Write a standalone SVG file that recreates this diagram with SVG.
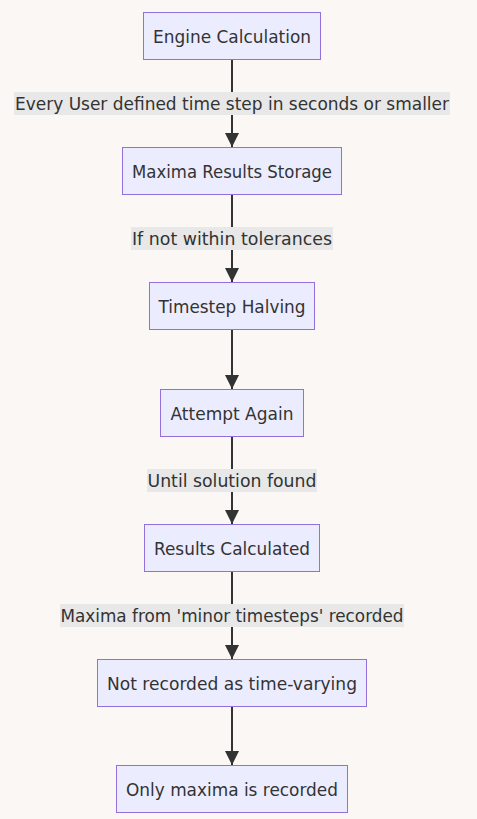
<svg xmlns="http://www.w3.org/2000/svg" width="477" height="819" viewBox="0 0 477 819">
<style>
.bg{fill:#faf7f4}
.node rect{fill:#ECECFF;stroke:#9370DB;stroke-width:1px}
text{font-family:"DejaVu Sans","Trebuchet MS",Verdana,sans-serif;font-size:17px;fill:#333;text-anchor:middle;dominant-baseline:central}
.edge{stroke:#333;stroke-width:2px;fill:none}
.lbl rect{fill:#e8e8e8}
</style>
<defs>
<marker id="arrow" markerUnits="userSpaceOnUse" markerWidth="14" markerHeight="14" refX="14" refY="7" orient="auto" viewBox="0 0 14 14">
<path d="M0,0 L14,7 L0,14 z" fill="#333"/>
</marker>
</defs>
<rect class="bg" x="0" y="0" width="477" height="819"/>
<g id="connectors">
<path class="edge" d="M232,60 L232,147" marker-end="url(#arrow)"/>
<path class="edge" d="M232,195 L232,282" marker-end="url(#arrow)"/>
<path class="edge" d="M232,330 L232,389" marker-end="url(#arrow)"/>
<path class="edge" d="M232,437 L232,524" marker-end="url(#arrow)"/>
<path class="edge" d="M232,572 L232,659" marker-end="url(#arrow)"/>
<path class="edge" d="M232,707 L232,765" marker-end="url(#arrow)"/>
<g class="lbl" id="label1"><rect x="14" y="92" width="436" height="23"/><text x="232" y="104" textLength="434" lengthAdjust="spacingAndGlyphs">Every User defined time step in seconds or smaller</text></g>
<g class="lbl" id="label2"><rect x="131" y="227" width="202" height="23"/><text x="232" y="239" textLength="200" lengthAdjust="spacingAndGlyphs">If not within tolerances</text></g>
<g class="lbl" id="label3"><rect x="147" y="469" width="170" height="23"/><text x="232" y="481" textLength="169" lengthAdjust="spacingAndGlyphs">Until solution found</text></g>
<g class="lbl" id="label4"><rect x="60" y="604" width="344" height="23"/><text x="232" y="616" textLength="343" lengthAdjust="spacingAndGlyphs">Maxima from 'minor timesteps' recorded</text></g>
</g>
<g class="node" id="engineCalc"><rect x="143.5" y="12.5" width="177" height="47"/><text x="232" y="37" textLength="158" lengthAdjust="spacingAndGlyphs">Engine Calculation</text></g>
<g class="node" id="maximaStorage"><rect x="122.5" y="147.5" width="219" height="47"/><text x="232" y="172" textLength="200" lengthAdjust="spacingAndGlyphs">Maxima Results Storage</text></g>
<g class="node" id="timestepHalving"><rect x="149.5" y="282.5" width="165" height="47"/><text x="232" y="307" textLength="147" lengthAdjust="spacingAndGlyphs">Timestep Halving</text></g>
<g class="node" id="attemptAgain"><rect x="160.5" y="389.5" width="143" height="47"/><text x="232" y="414" textLength="123" lengthAdjust="spacingAndGlyphs">Attempt Again</text></g>
<g class="node" id="resultsCalc"><rect x="144.5" y="524.5" width="175" height="47"/><text x="232" y="549" textLength="156" lengthAdjust="spacingAndGlyphs">Results Calculated</text></g>
<g class="node" id="notRecorded"><rect x="97.5" y="659.5" width="269" height="47"/><text x="232" y="684" textLength="250" lengthAdjust="spacingAndGlyphs">Not recorded as time-varying</text></g>
<g class="node" id="onlyMaxima"><rect x="116.5" y="765.5" width="231" height="47"/><text x="232" y="790" textLength="212" lengthAdjust="spacingAndGlyphs">Only maxima is recorded</text></g>
</svg>
